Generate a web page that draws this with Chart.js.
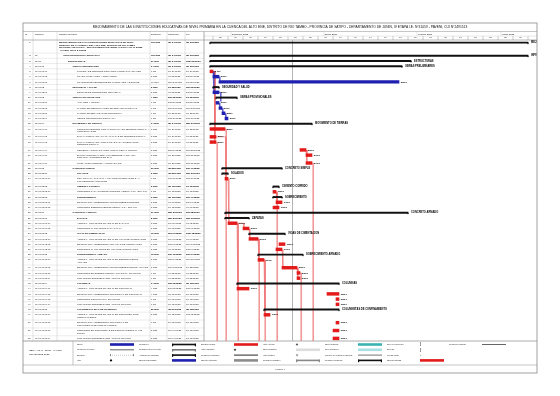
<!DOCTYPE html>
<html>
<head>
<meta charset="utf-8">
<script src="https://cdn.jsdelivr.net/npm/chart.js@4.4.1/dist/chart.umd.min.js"></script>
<style>
  html, body { margin: 0; padding: 0; background: #fff; }
</style>
</head>
<body>
<canvas id="gantt" width="560" height="396"></canvas>
<script>
// ---- datos del cronograma (dias contados desde el inicio del proyecto) ----
const inicioProyecto = new Date(2022, 10, 24);

const numeros = ['', '01', '01.01', '01.01.01', '01.01.01.01', '01.01.01.02', '01.01.01.03', '01.01.02', '01.01.02.01',
  '01.01.03', '01.01.03.01', '01.01.03.02', '01.01.03.03', '01.01.03.04', '01.01.04', '01.01.04.01', '01.01.04.02',
  '01.01.04.03', '01.01.04.04', '01.01.04.05', '01.01.04.06', '01.01.05', '01.01.05.01', '01.01.05.01.01', '01.01.05.02',
  '01.01.05.02.01', '01.01.05.03', '01.01.05.03.01', '01.01.05.03.02', '01.01.06', '01.01.06.01', '01.01.06.01.01',
  '01.01.06.01.02', '01.01.06.02', '01.01.06.02.01', '01.01.06.02.02', '01.01.06.02.03', '01.01.06.03', '01.01.06.03.01',
  '01.01.06.03.02', '01.01.06.03.03', '01.01.06.03.04', '01.01.06.04', '01.01.06.04.01', '01.01.06.04.02', '01.01.06.04.03',
  '01.01.06.04.04', '01.01.06.05', '01.01.06.05.01', '01.01.06.05.02', '01.01.06.05.03', '01.01.06.05.04'];

// los saltos de linea son los de la columna "Nombre de tarea"
const nombres = [
  'MEJORAMIENTO DE LAS 6 INSTITUCIONES EDUCATIVAS DE NIVEL\nPRIMARIA EN LA CUENCA DEL ALTO ENE, DISTRITO DE RIO TAMBO -\nPROVINCIA DE SATIPO - DEPARTAMENTO DE JUNIN, IV ETAPA I.E. N°31059\n- PAVENI, CUI N°2491513',
  'INFRAESTRUCTURA EDUCATIVA',
  'ESTRUCTURAS',
  'OBRAS PRELIMINARES',
  'LIMPIEZA DE TERRENO CON HERRAMIENTAS MANUALES',
  'TRAZO, NIVELACION Y REPLANTEO',
  'TRANSPORTE TERRESTRE DE MATERIALES Y EQUIPOS',
  'SEGURIDAD Y SALUD',
  'EQUIPOS DE PROTECCION INDIVIDUAL',
  'OBRAS PROVISIONALES',
  'ALMACEN Y OFICINA',
  'CARTEL DE IDENTIFICACION DE OBRA DE 3.60x2.40 m',
  'CARTEL DE SEÑALIZACION PREVENTIVA',
  'CERCO PERIMETRICO CON MALLA',
  'MOVIMIENTO DE TIERRAS',
  'CORTE DE TERRENO CON MAQUINARIA EN TERRENO NORMAL Y\nCONFORMACION',
  'EXCAVACION MANUAL PARA ZAPATAS EN TERRENO NORMAL',
  'EXCAVACION MANUAL DE ZANJAS PARA CIMENTACION\nTERRENO NORMAL',
  'RELLENO Y COMPACTACION, CON MATERIAL PROPIO',
  'ELIMINACION DE MATERIAL EXCEDENTE HASTA UNA\nDISTANCIA PROMEDIO DE 30 M',
  'NIVELACION INTERIOR Y COMPACTADO',
  'CONCRETO SIMPLE',
  'SOLADOS',
  'SOLADO PARA ZAPATAS Y VIGAS DE CIMENTACION E=4"\n1:12 CEMENTO-HORMIGON',
  'CIMIENTO CORRIDO',
  'CONCRETO PARA CIMIENTO CORRIDO, MEZCLA 1:10 +30% P.G.',
  'SOBRECIMIENTO',
  'ENCOFRADO Y DESENCOFRADO DE SOBRECIMIENTOS',
  'CONCRETO SOBRECIMIENTOS MEZCLA 1:8 + 25% P.M.',
  'CONCRETO ARMADO',
  'ZAPATAS',
  'ACERO fy=4200 kg/cm2 GRADO 60 EN ZAPATAS',
  "CONCRETO f'c=210 kg/cm2 PARA ZAPATA",
  'VIGAS DE CIMENTACION',
  'ACERO fy=4200 kg/cm2 GRADO 60 EN VIGAS DE CIMENTACION',
  'ENCOFRADO Y DESENCOFRADO VIGAS DE CIMENTACION',
  "CONCRETO f'c=210 kg/cm2 EN VIGAS DE CIMENTACION",
  'SOBRECIMIENTO ARMADO',
  'ACERO fy=4200 kg/cm2 GRADO 60 EN SOBRECIMIENTO\nARMADO',
  'ENCOFRADO Y DESENCOFRADO DE SOBRECIMIENTO ARMADO',
  "CONCRETO EN SOBRECIMIENTO ARMADO f'c=175 kg/cm2",
  'CURADO DE CONCRETO CON ADITIVO QUIMICO',
  'COLUMNAS',
  'ACERO fy=4200 kg/cm2 GRADO 60 EN COLUMNAS',
  'ENCOFRADO Y DESENCOFRADO NORMAL EN COLUMNAS',
  "CONCRETO COLUMNAS f'c=210 kg/cm2",
  'CURADO DE CONCRETO CON ADITIVO QUIMICO',
  'COLUMNETAS DE CONFINAMIENTO',
  'ACERO fy=4200 kg/cm2 GRADO 60 EN COLUMNETAS DE\nCONFINAMIENTO',
  'ENCOFRADO Y DESENCOFRADO NORMAL EN\nCOLUMNETAS DE CONFINAMIENTO',
  "CONCRETO EN COLUMNETAS DE CONFINAMIENTO f'c=175\nkg/cm2",
  'CURADO DE CONCRETO CON ADITIVO QUIMICO'
];

// R = resumen, C = tarea critica, N = tarea normal
const tipos = ['R','R','R','R','C','N','N','R','N','R','N','N','N','N','R','C','C','C','C','C','C','R','R','C','R','C',
  'R','C','C','R','R','C','C','R','C','C','C','R','C','C','C','C','R','C','C','C','C','R','C','C','C','C'];

const inicios = [0, 0, 0, 0, 0, 1, 3, 1, 1, 2, 2, 3, 4, 5, 0, 0, 0, 0, 30, 32, 32, 4, 4, 5, 21, 21,
  21, 22, 21, 5, 5, 6, 11, 13, 13, 23, 22, 16, 16, 24, 29, 29, 9, 9, 39, 42, 42, 18, 18, 42, 41, 41];
const duraciones = [106, 106, 67, 64, 1, 2, 60, 2, 2, 7, 1, 1, 1, 1, 34, 5, 2, 2, 2, 2, 2, 20, 2, 1, 2, 1,
  3, 2, 2, 61, 8, 3, 2, 12, 3, 2, 2, 15, 2, 5, 1, 1, 34, 4, 4, 1, 1, 25, 2, 1, 2, 2];

// vinculos fin-comienzo (Id predecesora, Id sucesora)
const enlaces = [[5,6],[6,7],[5,9],[9,11],[11,12],[12,13],[13,14],[5,16],[5,17],[5,18],[17,24],[24,32],[32,44],
  [32,33],[33,35],[35,39],[39,49],[26,28],[37,40],[40,41],[40,42],[19,20],[19,21]];
// vinculos que siguen a la pagina siguiente
const enlacesSalida = [18, 16, 32, 35, 39, 26, 41, 21];
const fechaEstado = 27.5;

// escala temporal
const mesesEscala = ['Diciembre 2022', 'Enero 2023', 'Febrero 2023', 'Marzo 2023'];
const mesesDia = [7, 38, 69, 97];
const diasEscala = ['25','30','05','10','15','20','25','30','04','09','14','19','24','29','03','08','13','18','23','28','05','10'];
const primeraMarca = 1, pasoMarca = 5;

const leyenda = [
  ['Tarea', 'barra', '#1f1fb0'], ['Progreso de tarea', 'linea', '#555'], ['División', 'puntos', '#333'], ['Hito', 'rombo', '#000'],
  ['Resumen', 'resumen', '#111'], ['Resumen del proyecto', 'resumen', '#777'], ['Agrupar por síntesis', 'resumen', '#111'], ['Tareas resumidas', 'barra', '#1f1fb0'],
  ['División crítica', 'barra', '#e31b1b'], ['Hito resumido', 'rombo', '#333'], ['Progreso resumido', 'linea', '#111'], ['Tareas externas', 'barra', '#8c8c8c'],
  ['Hito externo', 'rombo', '#555'], ['Tarea inactiva', 'barra', '#dcdcdc'], ['Hito inactivo', 'rombo', '#999'], ['Resumen inactivo', 'resumen', '#888'],
  ['Tarea manual', 'barra', '#3bb3b3'], ['Solo duración', 'barra', '#a8e0e4'], ['Informe de resumen manual', 'linea', '#666'], ['Resumen manual', 'resumen', '#111'],
  ['Solo el comienzo', 'texto', '['], ['Solo fin', 'texto', ']'], ['Fecha límite', 'texto', '↓'], ['Tareas críticas', 'barra', '#e31b1b'],
  ['Progreso manual', 'linea', '#555']
];
const notaObra = ['OBRA: I.E. N° 31059 - PAVENI', 'NOVIEMBRE 2022'];

// ---- hoja ----
const ROJO = '#e31b1b', AZUL = '#1f1fb0';
const FAM = '"Liberation Sans", Arial, sans-serif';
const T_TABLA = 2.3;
const PAG = { izq: 23, der: 537, sup: 23, titulo: 31.5, cab: 40, ley: 341, pie: 365, inf: 373 };
const COL = { id: 23, num: 33, nom: 57, dur: 150, com: 167, fin: 185, gantt: 204 };
const tituloHoja = nombres[0].replace(/\n/g, ' ');

function fuente(t, negrita) { return (negrita ? 'bold ' : '') + t + 'px ' + FAM; }

function sangria(i) {
  const n = numeros[i] ? numeros[i].split('.').length : 0;
  return COL.nom + 2 + 4.5 * Math.min(n, 4);
}

const diasSemana = ['dom', 'lun', 'mar', 'mié', 'jue', 'vie', 'sáb'];
function fechaDe(d) { const f = new Date(inicioProyecto); f.setDate(f.getDate() + d); return f; }
function dd(n) { return String(n).padStart(2, '0'); }
function fechaLarga(d) {
  const f = fechaDe(d);
  return diasSemana[f.getDay()] + ' ' + dd(f.getDate()) + '/' + dd(f.getMonth() + 1) + '/' + String(f.getFullYear()).slice(2);
}
function fechaCorta(d) { const f = fechaDe(d); return dd(f.getDate()) + '/' + dd(f.getMonth() + 1); }

// alto de cada fila segun las lineas del nombre
const lineasNombre = nombres.map(n => n.split('\n'));
const filaSup = [];
let acum = 0;
lineasNombre.forEach(l => { filaSup.push(acum); acum += l.length + 1; });
const totalUnidades = acum;
const yBarra = filaSup.map(t => t + 1);

// datasets
const datosTareas = [], coloresTareas = [], datosResumen = [], topes = [];
tipos.forEach((t, i) => {
  const tramo = { x: [inicios[i], inicios[i] + duraciones[i]], y: yBarra[i] };
  if (t === 'R') {
    datosResumen.push(tramo);
    topes.push({ x: inicios[i], y: yBarra[i] + 0.25 }, { x: inicios[i] + duraciones[i], y: yBarra[i] + 0.25 });
  } else {
    datosTareas.push(tramo);
    coloresTareas.push(t === 'C' ? ROJO : AZUL);
  }
});

function trazoEnlace(a, b) {
  const i = a - 1, j = b - 1;
  const fin = inicios[i] + duraciones[i], ini = inicios[j];
  const ya = yBarra[i], yb = yBarra[j] - 0.55;
  if (ini >= fin) return [{ x: fin, y: ya }, { x: ini + 0.3, y: ya }, { x: ini + 0.3, y: yb }];
  return [{ x: fin, y: ya }, { x: fin + 0.6, y: ya }, { x: fin + 0.6, y: yb }];
}

const lineas = [];
enlaces.forEach(([a, b]) => {
  lineas.push({
    type: 'scatter', indexAxis: 'x', data: trazoEnlace(a, b), showLine: true, pointRadius: 0,
    borderColor: tipos[b - 1] === 'C' ? '#ee6b6b' : '#3a3ac0', borderWidth: 0.6, order: 3
  });
});
enlacesSalida.forEach(a => {
  const i = a - 1, fin = inicios[i] + duraciones[i];
  lineas.push({
    type: 'scatter', indexAxis: 'x', showLine: true, pointRadius: 0, borderColor: '#ee8080', borderWidth: 0.6, order: 3,
    data: [{ x: fin, y: yBarra[i] }, { x: fin + 0.4, y: yBarra[i] }, { x: fin + 0.4, y: totalUnidades }]
  });
});
lineas.push({
  type: 'scatter', indexAxis: 'x', showLine: true, pointRadius: 0, borderColor: '#b4b4b4', borderWidth: 0.8, order: 4,
  data: [{ x: fechaEstado, y: 0 }, { x: fechaEstado, y: totalUnidades }]
});

function linea(c, x1, y1, x2, y2, color, w) {
  c.strokeStyle = color; c.lineWidth = w;
  c.beginPath(); c.moveTo(x1, y1); c.lineTo(x2, y2); c.stroke();
}

const hoja = {
  id: 'hoja',
  beforeDraw(chart) {
    const c = chart.ctx, xS = chart.scales.x, yS = chart.scales.y, a = chart.chartArea;
    c.save();
    c.fillStyle = '#fff';
    c.fillRect(0, 0, chart.width, chart.height);
    c.textBaseline = 'middle';

    // titulo
    c.fillStyle = '#111';
    c.font = fuente(3.3, false);
    c.textAlign = 'center';
    c.fillText(tituloHoja, (PAG.izq + PAG.der) / 2, (PAG.sup + PAG.titulo) / 2);

    // cabecera de columnas
    c.font = fuente(2.4, false);
    c.textAlign = 'left';
    const yc = (PAG.titulo + PAG.cab) / 2 - 1.5;
    c.fillText('Id', COL.id + 2, yc);
    c.fillText('Número', COL.num + 2, yc);
    c.fillText('Nombre de tarea', COL.nom + 2, yc);
    c.fillText('Duración', COL.dur + 1, yc);
    c.fillText('Comienzo', COL.com + 1, yc);
    c.fillText('Fin', COL.fin + 1, yc);

    // escala temporal
    const yMes = PAG.titulo + 2.4, yDiv = PAG.titulo + 4.6, yDia = PAG.cab - 2.1;
    linea(c, a.left, yDiv, PAG.der, yDiv, '#cfcfcf', 0.5);
    c.font = fuente(2.3, false);
    mesesEscala.forEach((m, k) => {
      const x = xS.getPixelForValue(mesesDia[k]);
      linea(c, x, PAG.titulo, x, yDiv, '#cfcfcf', 0.5);
      c.fillText(m, x + 1, yMes);
    });
    c.font = fuente(2.1, false);
    c.textAlign = 'center';
    diasEscala.forEach((d, k) => {
      const x = xS.getPixelForValue(primeraMarca + pasoMarca * k);
      linea(c, x, yDiv, x, PAG.cab, '#9a9a9a', 0.5);
      const xm = xS.getPixelForValue(primeraMarca + pasoMarca * k + pasoMarca / 2);
      if (xm < PAG.der - 2) c.fillText(d, xm, yDia);
    });
    c.textAlign = 'left';

    // filas de la tabla
    nombres.forEach((n, i) => {
      const yBot = yS.getPixelForValue(filaSup[i] + lineasNombre[i].length + 1);
      linea(c, PAG.izq, yBot, a.left, yBot, '#d9d9d9', 0.5);
      const y0 = yS.getPixelForValue(yBarra[i]);
      const resumen = tipos[i] === 'R';
      c.fillStyle = resumen ? '#000' : '#2a2a2a';
      c.font = fuente(T_TABLA, false);
      c.textAlign = 'right';
      c.fillText(String(i + 1), COL.num - 2.5, y0);
      c.textAlign = 'left';
      c.fillText(numeros[i], COL.num + 2, y0);
      c.font = fuente(T_TABLA, resumen);
      lineasNombre[i].forEach((t, k) => {
        c.fillText(t, sangria(i), yS.getPixelForValue(yBarra[i] + k), COL.dur - 1 - sangria(i));
      });
      c.fillText(duraciones[i] + (duraciones[i] === 1 ? ' día' : ' días'), COL.dur + 1, y0);
      c.fillText(fechaLarga(inicios[i]), COL.com + 1, y0);
      c.fillText(fechaLarga(inicios[i] + duraciones[i] - 1), COL.fin + 1, y0);
    });

    // separadores de columnas
    [COL.num, COL.nom, COL.dur, COL.com, COL.fin].forEach(x => linea(c, x, PAG.titulo, x, PAG.ley, '#c4c4c4', 0.5));
    linea(c, a.left, PAG.titulo, a.left, PAG.ley, '#8a8a8a', 0.7);
    linea(c, PAG.izq, PAG.titulo, PAG.der, PAG.titulo, '#a0a0a0', 0.6);
    linea(c, PAG.izq, PAG.cab, PAG.der, PAG.cab, '#8a8a8a', 0.6);

    // leyenda
    linea(c, PAG.izq, PAG.ley, PAG.der, PAG.ley, '#8a8a8a', 0.7);
    linea(c, PAG.izq, PAG.pie, PAG.der, PAG.pie, '#a0a0a0', 0.6);
    linea(c, 73, PAG.ley, 73, PAG.pie, '#a0a0a0', 0.6);
    c.fillStyle = '#222';
    c.font = fuente(2.4, false);
    notaObra.forEach((t, k) => c.fillText(t, PAG.izq + 6, 350.5 + k * 3.6));
    c.font = fuente(2.2, false);
    leyenda.forEach(([txt, tipo, col], k) => {
      const cx = 77 + 62 * Math.floor(k / 4), cy = 344.5 + 5.3 * (k % 4);
      const s0 = cx + 33, s1 = cx + 57;
      c.fillStyle = '#222';
      c.fillText(txt, cx, cy);
      if (tipo === 'barra') { c.fillStyle = col; c.fillRect(s0, cy - 1.3, s1 - s0, 2.6); }
      else if (tipo === 'linea') { linea(c, s0, cy, s1, cy, col, 0.9); }
      else if (tipo === 'resumen') {
        c.fillStyle = col; c.fillRect(s0, cy - 0.8, s1 - s0, 1.6);
        c.fillRect(s0, cy - 0.8, 1.2, 2.6); c.fillRect(s1 - 1.2, cy - 0.8, 1.2, 2.6);
      } else if (tipo === 'rombo') {
        c.fillStyle = col; c.beginPath();
        c.moveTo(s0 + 1, cy - 1.3); c.lineTo(s0 + 2.3, cy); c.lineTo(s0 + 1, cy + 1.3); c.lineTo(s0 - 0.3, cy); c.fill();
      } else if (tipo === 'puntos') {
        c.fillStyle = '#333'; c.fillRect(s0, cy - 1, 0.6, 2); c.fillRect(s1 - 0.6, cy - 1, 0.6, 2);
        for (let x = s0 + 2; x < s1 - 1; x += 2) c.fillRect(x, cy - 0.2, 0.7, 0.4);
      } else if (tipo === 'texto') {
        c.font = fuente(3, true); c.fillStyle = '#111'; c.fillText(col, s0, cy); c.font = fuente(2.2, false);
      }
    });
    c.textAlign = 'center';
    c.fillStyle = '#333';
    c.font = fuente(2.4, false);
    c.fillText('Página 1', (PAG.izq + PAG.der) / 2, (PAG.pie + PAG.inf) / 2);

    // marco
    c.strokeStyle = '#8a8a8a';
    c.lineWidth = 0.8;
    c.strokeRect(PAG.izq, PAG.sup, PAG.der - PAG.izq, PAG.inf - PAG.sup);
    c.restore();
  },
  afterDatasetsDraw(chart) {
    const c = chart.ctx, xS = chart.scales.x, yS = chart.scales.y, a = chart.chartArea;
    c.save();
    c.beginPath();
    c.rect(a.left, a.top, PAG.der - a.left - 0.5, a.bottom - a.top);
    c.clip();
    c.textBaseline = 'middle';
    c.textAlign = 'left';
    c.fillStyle = '#000';
    tipos.forEach((t, i) => {
      const fin = inicios[i] + duraciones[i];
      const x = xS.getPixelForValue(fin), y = yS.getPixelForValue(yBarra[i]);
      if (t === 'R') {
        c.font = fuente(2.6, true);
        c.fillText(i === 0 ? tituloHoja : nombres[i], x + 3, y);
      } else {
        c.font = fuente(2.4, true);
        c.fillText(fechaCorta(fin - 1), x + 1.8, y);
      }
    });
    c.restore();
  }
};

new Chart(document.getElementById('gantt'), {
  type: 'bar',
  data: {
    datasets: [
      { label: 'Tareas', data: datosTareas, backgroundColor: coloresTareas, barThickness: 2.8, grouped: false, order: 1 },
      { label: 'Resumen', data: datosResumen, backgroundColor: '#111', barThickness: 1.3, grouped: false, order: 1 },
      { type: 'scatter', indexAxis: 'x', label: 'Extremos', data: topes, pointStyle: 'triangle', rotation: 180,
        pointRadius: 1.2, backgroundColor: '#111', borderWidth: 0, order: 0 },
      ...lineas
    ]
  },
  options: {
    indexAxis: 'y',
    responsive: false,
    animation: false,
    devicePixelRatio: 1,
    events: [],
    layout: { padding: { left: COL.gantt, right: 560 - PAG.der, top: PAG.cab, bottom: 396 - PAG.ley } },
    scales: {
      x: { type: 'linear', min: -2, max: 109, display: false },
      y: { type: 'linear', min: 0, max: totalUnidades, reverse: true, display: false, offset: false }
    },
    plugins: { legend: { display: false }, tooltip: { enabled: false } }
  },
  plugins: [hoja]
});
</script>
</body>
</html>
